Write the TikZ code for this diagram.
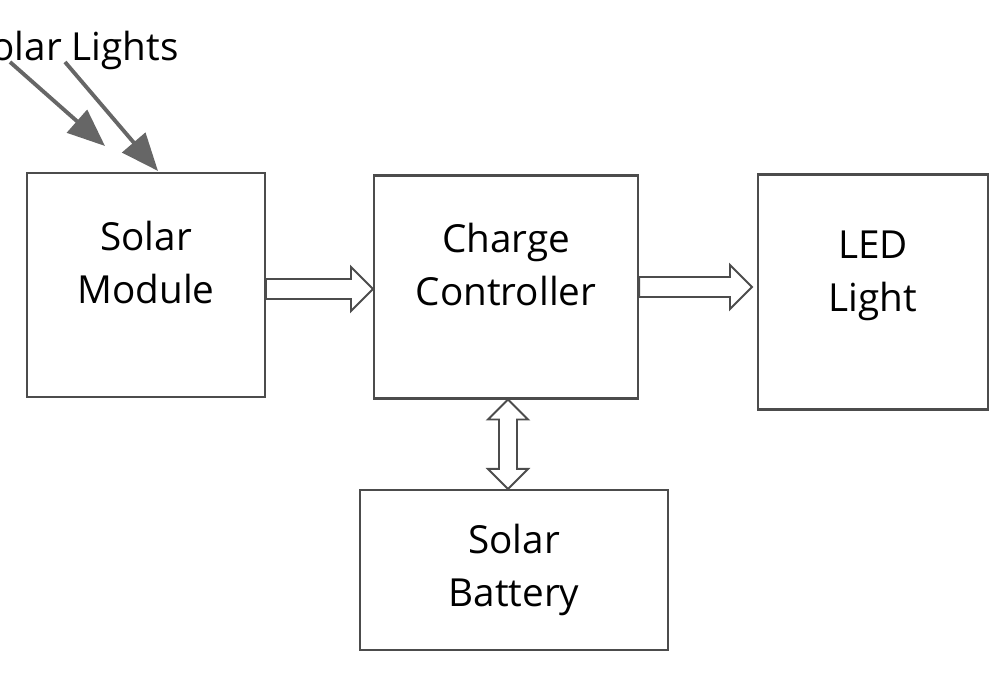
\documentclass[tikz,border=0pt]{standalone}
\usepackage{fontspec}
\setmainfont{Open Sans}
\usetikzlibrary{calc,arrows.meta}
\begin{document}
\begin{tikzpicture}[x=0.02cm,y=-0.02cm,
  box/.style={draw=black!70,line width=1.2pt,fill=white,align=center,font=\fontsize{22}{30}\selectfont},
  blk/.style={draw=black!70,line width=1.1pt,fill=white,line join=miter},
  ray/.style={draw=black!60,line width=2.2pt,-{Triangle[length=0.75cm,width=0.6cm]}}]
\useasboundingbox (0,0) rectangle (1001,688);
\path[clip] (0,0) rectangle (1001,688);
\node[box,minimum width=4.76cm,minimum height=4.48cm] (sm) at (146,285) {Solar\\Module\\[-4pt]};
\node[box,minimum width=5.28cm,minimum height=4.46cm] (cc) at (506,287) {Charge\\Controller\\[-4pt]};
\node[box,minimum width=4.6cm,minimum height=4.7cm] (led) at (873,292) {LED\\Light\\[-6pt]};
\node[box,minimum width=6.16cm,minimum height=3.2cm] (bat) at (514,570) {Solar\\Battery};
\node[font=\fontsize{22}{27}\selectfont,anchor=west] (txt) at (-36,50) {Solar Lights};
\coordinate (r1s) at (10,62); \coordinate (r1e) at (105,146);
\coordinate (r2s) at (65,62); \coordinate (r2e) at (158,171);
\draw[ray] (r1s) -- (r1e);
\draw[ray] (r2s) -- (r2e);
\coordinate (a1s) at (sm.east|-0,289); \coordinate (a1e) at (cc.west|-0,289);
\draw[blk] ($(a1s)+(0,-10)$) -- ($(a1e)+(-22,-10)$) -- ($(a1e)+(-22,-22)$) -- (a1e) -- ($(a1e)+(-22,22)$) -- ($(a1e)+(-22,10)$) -- ($(a1s)+(0,10)$) -- cycle;
\coordinate (a2s) at (cc.east|-0,287); \coordinate (a2e) at (752,287);
\draw[blk] ($(a2s)+(0,-10)$) -- ($(a2e)+(-22,-10)$) -- ($(a2e)+(-22,-22)$) -- (a2e) -- ($(a2e)+(-22,22)$) -- ($(a2e)+(-22,10)$) -- ($(a2s)+(0,10)$) -- cycle;
\coordinate (a3s) at (508,0|-cc.south); \coordinate (a3e) at (508,0|-bat.north);
\draw[blk] (a3s) -- ($(a3s)+(20,20)$) -- ($(a3s)+(9,20)$) -- ($(a3e)+(9,-20)$) -- ($(a3e)+(20,-20)$) -- (a3e) -- ($(a3e)+(-20,-20)$) -- ($(a3e)+(-9,-20)$) -- ($(a3s)+(-9,20)$) -- ($(a3s)+(-20,20)$) -- cycle;
\end{tikzpicture}
\end{document}
